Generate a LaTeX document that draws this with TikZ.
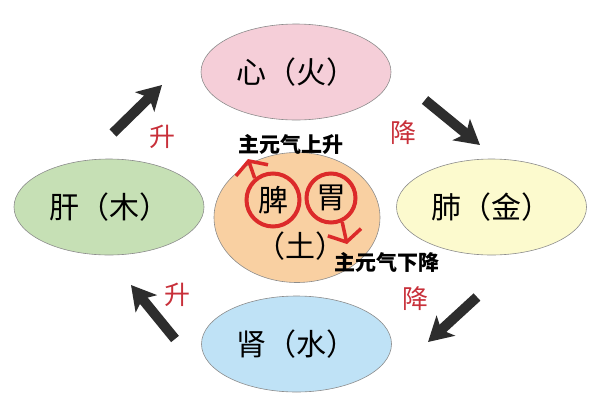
\documentclass[tikz,border=0pt]{standalone}
\usepackage{fontspec}
\setmainfont{Noto Sans CJK SC}
\usetikzlibrary{shapes.geometric, arrows.meta, positioning}
\definecolor{xinpink}{RGB}{245,206,216}
\definecolor{gangreen}{RGB}{198,224,181}
\definecolor{tuorange}{RGB}{249,208,162}
\definecolor{feiyellow}{RGB}{252,250,206}
\definecolor{shenblue}{RGB}{191,226,246}
\definecolor{ringred}{RGB}{220,42,42}
\definecolor{labelred}{RGB}{200,48,58}
\definecolor{arrowgray}{RGB}{45,45,45}
\newcommand\organfont{\fontsize{30pt}{32pt}\selectfont}
\newcommand\dirfont{\fontsize{26pt}{28pt}\selectfont}
\newcommand\notefont{\fontsize{21pt}{23pt}\selectfont\bfseries}

\begin{document}
\begin{tikzpicture}[x=1pt, y=1pt]
    \tikzstyle{organ} = [ellipse, draw=gray!90, line width=0.6pt, minimum width=190pt,
                                      minimum height=96pt, inner sep=0pt, font=\organfont]
    \tikzstyle{ring} = [circle, draw=ringred, line width=4pt, inner sep=0pt, font=\organfont]
    \tikzstyle{flow} = [draw=arrowgray, line width=10pt, -{Stealth[length=24pt, width=27pt, inset=6pt]}]
    \tikzstyle{qi} = [draw=ringred, line width=3.5pt, line join=miter,
                                      -{Straight Barb[length=10pt, width=34pt, line width=3.5pt]}]
  \useasboundingbox (0,0) rectangle (600,-413);
  \node[organ, fill=tuorange, minimum width=166pt, minimum height=130pt](tu) at (297,-217.5){};
  \node[organ, fill=xinpink, node distance=145.5pt, above of=tu, xshift=-1pt](xin){心（火）};
  \node[organ, fill=gangreen, node distance=188pt, left of=tu, yshift=10.5pt](gan){肝（木）};
  \node[organ, fill=feiyellow, node distance=194.5pt, right of=tu, yshift=10.5pt](fei){肺（金）};
  \node[organ, fill=shenblue, node distance=126.5pt, below of=tu, xshift=-0.5pt](shen){肾（水）};
  \node[ring, minimum size=53pt, node distance=17.5pt, above of=tu, xshift=-24pt](pi){脾};
  \node[ring, minimum size=49pt, node distance=19.5pt, above of=tu, xshift=34pt](wei){胃};
  \node[font=\organfont, node distance=28.5pt, below of=tu, xshift=3pt](tulabel){（土）};
  \node[font=\notefont](upnote) at (291,-144){主元气上升};
  \node[font=\notefont](downnote) at (387,-262){主元气下降};
  \coordinate (piup) at (248,-159);
  \coordinate (weidown) at (347,-244);
  \draw[qi] (pi.130) -- (piup);
  \draw[qi] (wei.-65) -- (weidown);
  \coordinate (rise1a) at (113,-133);
  \coordinate (rise1b) at (162,-85);
  \coordinate (fall1a) at (425,-100);
  \coordinate (fall1b) at (480,-145);
  \coordinate (fall2a) at (477,-297);
  \coordinate (fall2b) at (428,-342);
  \coordinate (rise2a) at (175,-339);
  \coordinate (rise2b) at (131,-285);
  \draw[flow] (rise1a) -- (rise1b);
  \draw[flow] (fall1a) -- (fall1b);
  \draw[flow] (fall2a) -- (fall2b);
  \draw[flow] (rise2a) -- (rise2b);
  \node[text=labelred, font=\dirfont](rise1) at (162,-137){升};
  \node[text=labelred, font=\dirfont](fall1) at (403,-133){降};
  \node[text=labelred, font=\dirfont](fall2) at (415,-299){降};
  \node[text=labelred, font=\dirfont](rise2) at (177,-295){升};
  \end{tikzpicture}
\end{document}
